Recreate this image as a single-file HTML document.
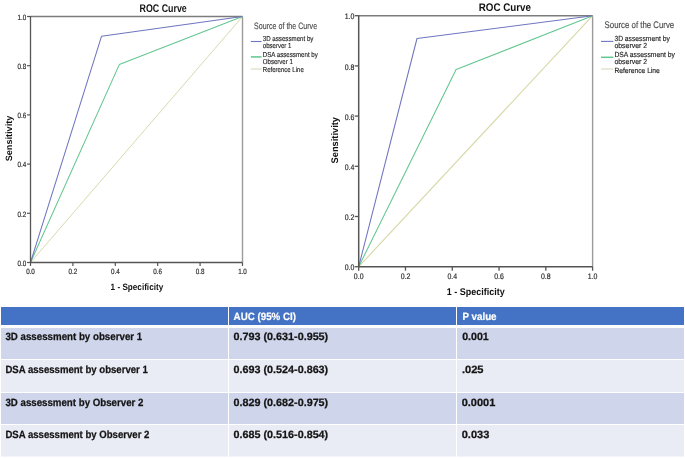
<!DOCTYPE html>
<html><head><meta charset="utf-8">
<style>
html,body{margin:0;padding:0;background:#fff;}
body{width:685px;height:458px;overflow:hidden;position:relative;}
svg{position:absolute;left:0;top:0;will-change:transform;}
text{font-family:"Liberation Sans",sans-serif;text-rendering:geometricPrecision;}
</style></head>
<body>
<svg width="685" height="458" viewBox="0 0 685 458">
<rect x="0" y="0" width="685" height="458" fill="#fff"/>
<g id="c1">
  <line x1="30.5" y1="16.5" x2="242.5" y2="16.5" stroke="#7c7c7c" stroke-width="1.4"/>
  <line x1="242.5" y1="16.5" x2="242.5" y2="262.5" stroke="#9a9a9a" stroke-width="1.4"/>
  <polyline points="30.5,262.5 242.5,16.5" fill="none" stroke="#d9d9ae" stroke-width="1.0"/>
  <polyline points="30.5,262.5 119.3,64.6 242.5,16.5" fill="none" stroke="#62c68f" stroke-width="1.05" stroke-linejoin="round"/>
  <polyline points="30.5,262.5 101.5,36.3 242.5,16.5" fill="none" stroke="#6f76bf" stroke-width="1.05" stroke-linejoin="round"/>
  <line x1="30.5" y1="16" x2="30.5" y2="263" stroke="#555555" stroke-width="1.3"/>
  <line x1="30" y1="262.5" x2="242.5" y2="262.5" stroke="#555555" stroke-width="1.3"/>
  <line x1="27" y1="262.5" x2="30.5" y2="262.5" stroke="#555555" stroke-width="1.2"/>
  <line x1="30.5" y1="262.5" x2="30.5" y2="266" stroke="#555555" stroke-width="1.2"/>
  <line x1="27" y1="213.3" x2="30.5" y2="213.3" stroke="#555555" stroke-width="1.2"/>
  <line x1="72.9" y1="262.5" x2="72.9" y2="266" stroke="#555555" stroke-width="1.2"/>
  <line x1="27" y1="164.1" x2="30.5" y2="164.1" stroke="#555555" stroke-width="1.2"/>
  <line x1="115.3" y1="262.5" x2="115.3" y2="266" stroke="#555555" stroke-width="1.2"/>
  <line x1="27" y1="114.9" x2="30.5" y2="114.9" stroke="#555555" stroke-width="1.2"/>
  <line x1="157.7" y1="262.5" x2="157.7" y2="266" stroke="#555555" stroke-width="1.2"/>
  <line x1="27" y1="65.7" x2="30.5" y2="65.7" stroke="#555555" stroke-width="1.2"/>
  <line x1="200.1" y1="262.5" x2="200.1" y2="266" stroke="#555555" stroke-width="1.2"/>
  <line x1="27" y1="16.5" x2="30.5" y2="16.5" stroke="#555555" stroke-width="1.2"/>
  <line x1="242.5" y1="262.5" x2="242.5" y2="266" stroke="#555555" stroke-width="1.2"/>
  <text x="26.35" y="265.8" font-size="7.6" fill="#2a2a2a" stroke="#2a2a2a" stroke-width="0.18" text-anchor="end" textLength="8.75" lengthAdjust="spacingAndGlyphs">0.0</text>
  <text x="30.5" y="273.9" font-size="7.6" fill="#2a2a2a" stroke="#2a2a2a" stroke-width="0.18" text-anchor="middle" textLength="8.75" lengthAdjust="spacingAndGlyphs">0.0</text>
  <text x="26.35" y="216.6" font-size="7.6" fill="#2a2a2a" stroke="#2a2a2a" stroke-width="0.18" text-anchor="end" textLength="8.75" lengthAdjust="spacingAndGlyphs">0.2</text>
  <text x="72.9" y="273.9" font-size="7.6" fill="#2a2a2a" stroke="#2a2a2a" stroke-width="0.18" text-anchor="middle" textLength="8.75" lengthAdjust="spacingAndGlyphs">0.2</text>
  <text x="26.35" y="167.4" font-size="7.6" fill="#2a2a2a" stroke="#2a2a2a" stroke-width="0.18" text-anchor="end" textLength="8.75" lengthAdjust="spacingAndGlyphs">0.4</text>
  <text x="115.3" y="273.9" font-size="7.6" fill="#2a2a2a" stroke="#2a2a2a" stroke-width="0.18" text-anchor="middle" textLength="8.75" lengthAdjust="spacingAndGlyphs">0.4</text>
  <text x="26.35" y="118.2" font-size="7.6" fill="#2a2a2a" stroke="#2a2a2a" stroke-width="0.18" text-anchor="end" textLength="8.75" lengthAdjust="spacingAndGlyphs">0.6</text>
  <text x="157.7" y="273.9" font-size="7.6" fill="#2a2a2a" stroke="#2a2a2a" stroke-width="0.18" text-anchor="middle" textLength="8.75" lengthAdjust="spacingAndGlyphs">0.6</text>
  <text x="26.35" y="69" font-size="7.6" fill="#2a2a2a" stroke="#2a2a2a" stroke-width="0.18" text-anchor="end" textLength="8.75" lengthAdjust="spacingAndGlyphs">0.8</text>
  <text x="200.1" y="273.9" font-size="7.6" fill="#2a2a2a" stroke="#2a2a2a" stroke-width="0.18" text-anchor="middle" textLength="8.75" lengthAdjust="spacingAndGlyphs">0.8</text>
  <text x="26.35" y="19.8" font-size="7.6" fill="#2a2a2a" stroke="#2a2a2a" stroke-width="0.18" text-anchor="end" textLength="8.75" lengthAdjust="spacingAndGlyphs">1.0</text>
  <text x="242.5" y="273.9" font-size="7.6" fill="#2a2a2a" stroke="#2a2a2a" stroke-width="0.18" text-anchor="middle" textLength="8.75" lengthAdjust="spacingAndGlyphs">1.0</text>
  <text x="139.6" y="11.7" font-size="11.1" font-weight="bold" fill="#111" textLength="47.2" lengthAdjust="spacingAndGlyphs">ROC Curve</text>
  <text x="110.6" y="289.5" font-size="9.2" font-weight="bold" fill="#111" textLength="52.6" lengthAdjust="spacingAndGlyphs">1 - Specificity</text>
  <text transform="translate(11.9,161.3) rotate(-90)" x="0" y="0" font-size="9.1" font-weight="bold" fill="#111" textLength="45.6" lengthAdjust="spacingAndGlyphs">Sensitivity</text>
  <text x="254.1" y="28.5" font-size="9.2" fill="#4a4a4a" stroke="#4a4a4a" stroke-width="0.15" textLength="63" lengthAdjust="spacingAndGlyphs">Source of the Curve</text>
  <line x1="250.9" y1="41.5" x2="261.6" y2="41.5" stroke="#6f76bf" stroke-width="1.1"/>
  <line x1="250.9" y1="56.9" x2="261.6" y2="56.9" stroke="#62c68f" stroke-width="1.5"/>
  <line x1="250.9" y1="69" x2="261.6" y2="69" stroke="#dedac0" stroke-width="1.2"/>
  <text x="262.8" y="41" font-size="7.2" fill="#1e1e1e" stroke="#1e1e1e" stroke-width="0.15" textLength="50.6" lengthAdjust="spacingAndGlyphs">3D assessment by</text>
  <text x="262.8" y="48.2" font-size="7.2" fill="#1e1e1e" stroke="#1e1e1e" stroke-width="0.15" textLength="28.6" lengthAdjust="spacingAndGlyphs">observer 1</text>
  <text x="262.8" y="56.6" font-size="7.2" fill="#1e1e1e" stroke="#1e1e1e" stroke-width="0.15" textLength="55" lengthAdjust="spacingAndGlyphs">DSA assessment by</text>
  <text x="262.8" y="63.8" font-size="7.2" fill="#1e1e1e" stroke="#1e1e1e" stroke-width="0.15" textLength="30" lengthAdjust="spacingAndGlyphs">Observer 1</text>
  <text x="262.8" y="72" font-size="7.2" fill="#1e1e1e" stroke="#1e1e1e" stroke-width="0.15" textLength="41" lengthAdjust="spacingAndGlyphs">Reference Line</text>
</g>
<g id="c2">
  <line x1="358.7" y1="15.7" x2="592.6" y2="15.7" stroke="#7c7c7c" stroke-width="1.4"/>
  <line x1="592.6" y1="15.7" x2="592.6" y2="266.7" stroke="#9a9a9a" stroke-width="1.4"/>
  <polyline points="358.7,266.7 592.6,15.7" fill="none" stroke="#d6d7a6" stroke-width="1.1"/>
  <polyline points="358.7,266.7 456.1,69.6 592.6,15.7" fill="none" stroke="#62c68f" stroke-width="1.05" stroke-linejoin="round"/>
  <polyline points="358.7,266.7 417,38.5 592.6,15.7" fill="none" stroke="#6f76bf" stroke-width="1.05" stroke-linejoin="round"/>
  <line x1="358.7" y1="15.2" x2="358.7" y2="267.2" stroke="#555555" stroke-width="1.5"/>
  <line x1="358.2" y1="266.7" x2="592.6" y2="266.7" stroke="#555555" stroke-width="1.5"/>
  <line x1="354.7" y1="266.7" x2="358.7" y2="266.7" stroke="#555555" stroke-width="1.3"/>
  <line x1="358.7" y1="266.7" x2="358.7" y2="270.7" stroke="#555555" stroke-width="1.3"/>
  <line x1="354.7" y1="216.5" x2="358.7" y2="216.5" stroke="#555555" stroke-width="1.3"/>
  <line x1="405.48" y1="266.7" x2="405.48" y2="270.7" stroke="#555555" stroke-width="1.3"/>
  <line x1="354.7" y1="166.3" x2="358.7" y2="166.3" stroke="#555555" stroke-width="1.3"/>
  <line x1="452.26" y1="266.7" x2="452.26" y2="270.7" stroke="#555555" stroke-width="1.3"/>
  <line x1="354.7" y1="116.1" x2="358.7" y2="116.1" stroke="#555555" stroke-width="1.3"/>
  <line x1="499.04" y1="266.7" x2="499.04" y2="270.7" stroke="#555555" stroke-width="1.3"/>
  <line x1="354.7" y1="65.9" x2="358.7" y2="65.9" stroke="#555555" stroke-width="1.3"/>
  <line x1="545.82" y1="266.7" x2="545.82" y2="270.7" stroke="#555555" stroke-width="1.3"/>
  <line x1="354.7" y1="15.7" x2="358.7" y2="15.7" stroke="#555555" stroke-width="1.3"/>
  <line x1="592.6" y1="266.7" x2="592.6" y2="270.7" stroke="#555555" stroke-width="1.3"/>
  <text x="354.4" y="270.3" font-size="8.0" fill="#2a2a2a" stroke="#2a2a2a" stroke-width="0.18" text-anchor="end" textLength="9.66" lengthAdjust="spacingAndGlyphs">0.0</text>
  <text x="358.7" y="278.8" font-size="8.0" fill="#2a2a2a" stroke="#2a2a2a" stroke-width="0.18" text-anchor="middle" textLength="9.66" lengthAdjust="spacingAndGlyphs">0.0</text>
  <text x="354.4" y="220.1" font-size="8.0" fill="#2a2a2a" stroke="#2a2a2a" stroke-width="0.18" text-anchor="end" textLength="9.66" lengthAdjust="spacingAndGlyphs">0.2</text>
  <text x="405.48" y="278.8" font-size="8.0" fill="#2a2a2a" stroke="#2a2a2a" stroke-width="0.18" text-anchor="middle" textLength="9.66" lengthAdjust="spacingAndGlyphs">0.2</text>
  <text x="354.4" y="169.9" font-size="8.0" fill="#2a2a2a" stroke="#2a2a2a" stroke-width="0.18" text-anchor="end" textLength="9.66" lengthAdjust="spacingAndGlyphs">0.4</text>
  <text x="452.26" y="278.8" font-size="8.0" fill="#2a2a2a" stroke="#2a2a2a" stroke-width="0.18" text-anchor="middle" textLength="9.66" lengthAdjust="spacingAndGlyphs">0.4</text>
  <text x="354.4" y="119.7" font-size="8.0" fill="#2a2a2a" stroke="#2a2a2a" stroke-width="0.18" text-anchor="end" textLength="9.66" lengthAdjust="spacingAndGlyphs">0.6</text>
  <text x="499.04" y="278.8" font-size="8.0" fill="#2a2a2a" stroke="#2a2a2a" stroke-width="0.18" text-anchor="middle" textLength="9.66" lengthAdjust="spacingAndGlyphs">0.6</text>
  <text x="354.4" y="69.5" font-size="8.0" fill="#2a2a2a" stroke="#2a2a2a" stroke-width="0.18" text-anchor="end" textLength="9.66" lengthAdjust="spacingAndGlyphs">0.8</text>
  <text x="545.82" y="278.8" font-size="8.0" fill="#2a2a2a" stroke="#2a2a2a" stroke-width="0.18" text-anchor="middle" textLength="9.66" lengthAdjust="spacingAndGlyphs">0.8</text>
  <text x="354.4" y="19.3" font-size="8.0" fill="#2a2a2a" stroke="#2a2a2a" stroke-width="0.18" text-anchor="end" textLength="9.66" lengthAdjust="spacingAndGlyphs">1.0</text>
  <text x="592.6" y="278.8" font-size="8.0" fill="#2a2a2a" stroke="#2a2a2a" stroke-width="0.18" text-anchor="middle" textLength="9.66" lengthAdjust="spacingAndGlyphs">1.0</text>
  <text x="478.7" y="10.8" font-size="11" font-weight="bold" fill="#111" textLength="52.3" lengthAdjust="spacingAndGlyphs">ROC Curve</text>
  <text x="446.7" y="295" font-size="9.8" font-weight="bold" fill="#111" textLength="58" lengthAdjust="spacingAndGlyphs">1 - Specificity</text>
  <text transform="translate(338.4,163.4) rotate(-90)" x="0" y="0" font-size="9.6" font-weight="bold" fill="#111" textLength="46.4" lengthAdjust="spacingAndGlyphs">Sensitivity</text>
  <text x="604.6" y="27.7" font-size="9.5" fill="#4a4a4a" stroke="#4a4a4a" stroke-width="0.15" textLength="69.6" lengthAdjust="spacingAndGlyphs">Source of the Curve</text>
  <line x1="601" y1="41.4" x2="613.3" y2="41.4" stroke="#6f76bf" stroke-width="1.1"/>
  <line x1="601" y1="57.3" x2="613.3" y2="57.3" stroke="#62c68f" stroke-width="1.5"/>
  <line x1="601" y1="69" x2="613.3" y2="69" stroke="#dedac0" stroke-width="1.2"/>
  <text x="614.4" y="41" font-size="7.4" fill="#1e1e1e" stroke="#1e1e1e" stroke-width="0.15" textLength="55.4" lengthAdjust="spacingAndGlyphs">3D assessment by</text>
  <text x="614.4" y="48" font-size="7.4" fill="#1e1e1e" stroke="#1e1e1e" stroke-width="0.15" textLength="32.8" lengthAdjust="spacingAndGlyphs">observer 2</text>
  <text x="614.4" y="57" font-size="7.4" fill="#1e1e1e" stroke="#1e1e1e" stroke-width="0.15" textLength="60.4" lengthAdjust="spacingAndGlyphs">DSA assessment by</text>
  <text x="614.4" y="63.9" font-size="7.4" fill="#1e1e1e" stroke="#1e1e1e" stroke-width="0.15" textLength="32.8" lengthAdjust="spacingAndGlyphs">observer 2</text>
  <text x="614.4" y="72.5" font-size="7.4" fill="#1e1e1e" stroke="#1e1e1e" stroke-width="0.15" textLength="45.4" lengthAdjust="spacingAndGlyphs">Reference Line</text>
</g>
<g id="tbl">
  <rect x="1" y="307" width="683" height="18" fill="#4472c4"/>
  <rect x="1" y="328" width="683" height="31" fill="#cfd5ea"/>
  <rect x="1" y="360" width="683" height="32" fill="#e9ebf5"/>
  <rect x="1" y="393" width="683" height="31" fill="#cfd5ea"/>
  <rect x="1" y="425" width="683" height="31.5" fill="#e9ebf5"/>
  <rect x="228" y="307" width="1" height="150" fill="#fff"/>
  <rect x="456" y="307" width="1" height="150" fill="#fff"/>
  <g font-size="10.5" font-weight="bold" fill="#fff" stroke="#fff" stroke-width="0.2">
    <text x="233.6" y="319.6" textLength="62.4" lengthAdjust="spacingAndGlyphs">AUC (95% CI)</text>
    <text x="462.4" y="319.6" textLength="34.2" lengthAdjust="spacingAndGlyphs">P value</text>
  </g>
  <g font-size="10.5" font-weight="bold" fill="#141414" stroke="#141414" stroke-width="0.25">
    <text x="5.4" y="339.7" textLength="136.8" lengthAdjust="spacingAndGlyphs">3D assessment by observer 1</text>
    <text x="5.4" y="373.1" textLength="142.4" lengthAdjust="spacingAndGlyphs">DSA assessment by observer 1</text>
    <text x="5.4" y="405.8" textLength="138" lengthAdjust="spacingAndGlyphs">3D assessment by Observer 2</text>
    <text x="5.4" y="438.4" textLength="144" lengthAdjust="spacingAndGlyphs">DSA assessment by Observer 2</text>
    <text x="233.6" y="339.7" textLength="94.6" lengthAdjust="spacingAndGlyphs">0.793 (0.631-0.955)</text>
    <text x="233.6" y="373.1" textLength="94.6" lengthAdjust="spacingAndGlyphs">0.693 (0.524-0.863)</text>
    <text x="233.6" y="405.8" textLength="94.6" lengthAdjust="spacingAndGlyphs">0.829 (0.682-0.975)</text>
    <text x="233.6" y="438.4" textLength="94.6" lengthAdjust="spacingAndGlyphs">0.685 (0.516-0.854)</text>
    <text x="462.2" y="339.7" textLength="26.6" lengthAdjust="spacingAndGlyphs">0.001</text>
    <text x="461.9" y="373.1" textLength="21.6" lengthAdjust="spacingAndGlyphs">.025</text>
    <text x="461.7" y="405.8" textLength="33.6" lengthAdjust="spacingAndGlyphs">0.0001</text>
    <text x="461.7" y="438.4" textLength="27.6" lengthAdjust="spacingAndGlyphs">0.033</text>
  </g>
</g>
</svg>
</body></html>
